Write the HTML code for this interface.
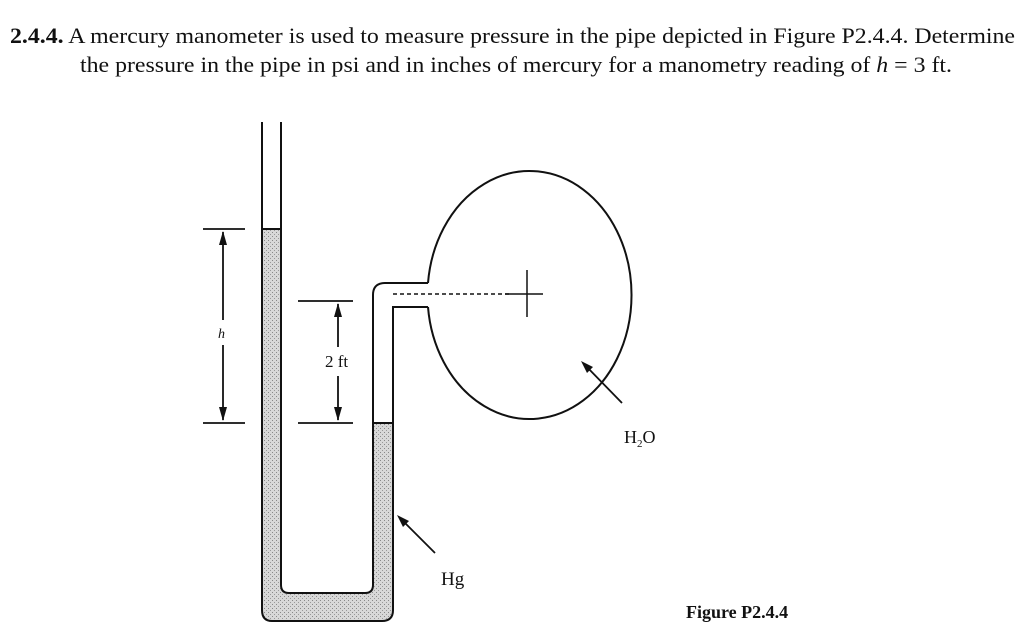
<!DOCTYPE html>
<html><head><meta charset="utf-8"><style>
html,body{margin:0;padding:0;background:#fff;}
svg{display:block;}
text{font-family:"Liberation Serif",serif;fill:#111;}
</style></head><body>
<svg width="1024" height="625" viewBox="0 0 1024 625" xmlns="http://www.w3.org/2000/svg">
<defs>
<pattern id="hg" width="4" height="4" patternUnits="userSpaceOnUse">
<rect width="4" height="4" fill="#d8d8d8"/>
<rect x="0" y="0" width="1" height="1" fill="#888"/>
<rect x="2" y="2" width="1" height="1" fill="#999"/>
</pattern>
</defs>
<text x="10" y="43" font-size="22" textLength="1005" lengthAdjust="spacingAndGlyphs"><tspan font-weight="bold">2.4.4.</tspan> A mercury manometer is used to measure pressure in the pipe depicted in Figure P2.4.4. Determine</text>
<text x="80" y="72" font-size="22" textLength="872" lengthAdjust="spacingAndGlyphs">the pressure in the pipe in psi and in inches of mercury for a manometry reading of <tspan font-style="italic">h</tspan> = 3 ft.</text>

<!-- mercury fill -->
<path d="M262 229 L281 229 L281 585 Q281 593 289 593 L365 593 Q373 593 373 585 L373 423 L393 423 L393 610 Q393 621 382 621 L272 621 Q262 621 262 610 Z" fill="url(#hg)"/>
<!-- tube outlines -->
<g fill="none" stroke="#111" stroke-width="2">
<path d="M262 122 L262 610 Q262 621 272 621 L382 621 Q393 621 393 610 L393 307 L428 307"/>
<path d="M281 122 L281 585 Q281 593 289 593 L365 593 Q373 593 373 585 L373 295 Q373 283 385 283 L428 283"/>
<line x1="262" y1="229" x2="281" y2="229"/>
<line x1="373" y1="423" x2="393" y2="423"/>
<path d="M428 283 A102 124 0 1 1 428 307"/>
</g>
<line x1="393" y1="294" x2="510" y2="294" stroke="#111" stroke-width="1.5" stroke-dasharray="4,3"/>
<line x1="505" y1="294" x2="543" y2="294" stroke="#111" stroke-width="1.5"/>
<line x1="527" y1="270" x2="527" y2="317" stroke="#111" stroke-width="1.5"/>

<!-- h dimension -->
<g stroke="#111" stroke-width="1.8">
<line x1="203" y1="229" x2="245" y2="229"/>
<line x1="203" y1="423" x2="245" y2="423"/>
<line x1="223" y1="232" x2="223" y2="320"/>
<line x1="223" y1="345" x2="223" y2="420"/>
<line x1="298" y1="301" x2="353" y2="301"/>
<line x1="298" y1="423" x2="353" y2="423"/>
<line x1="338" y1="304" x2="338" y2="347"/>
<line x1="338" y1="376" x2="338" y2="420"/>
<line x1="435" y1="553" x2="400" y2="518"/>
<line x1="622" y1="403" x2="584" y2="364"/>
</g>
<g fill="#111">
<polygon points="223,231 219,245 227,245"/>
<polygon points="223,421 219,407 227,407"/>
<polygon points="338,303 334,317 342,317"/>
<polygon points="338,421 334,407 342,407"/>
<polygon points="397,515 403,527 409,521"/>
<polygon points="581,361 587,373 593,367"/>
</g>
<text x="218" y="338" font-size="14" font-style="italic">h</text>
<text x="325" y="367" font-size="17">2 ft</text>
<text x="441" y="585" font-size="19">Hg</text>
<text x="624" y="443" font-size="18">H<tspan font-size="11" dy="4">2</tspan><tspan dy="-4">O</tspan></text>
<text x="686" y="618" font-size="18" font-weight="bold">Figure P2.4.4</text>
</svg>
</body></html>
